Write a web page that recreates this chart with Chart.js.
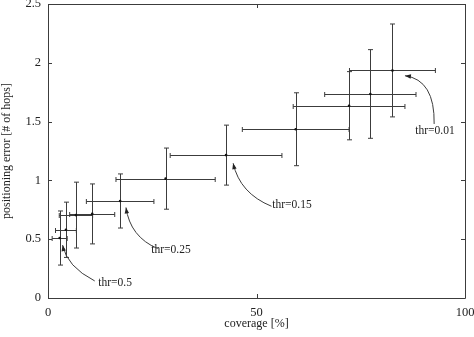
<!DOCTYPE html>
<html>
<head>
<meta charset="utf-8">
<script src="https://cdn.jsdelivr.net/npm/chart.js@4/dist/chart.umd.min.js"></script>
<style>
  html, body { margin: 0; padding: 0; background: #fff; }
  canvas { display: block; }
</style>
</head>
<body>
<canvas id="coverage" width="474" height="337"></canvas>
<script>
// mean coverage [%] and positioning error [hops], with spread on both axes
const coverage    = [2.8, 4.3, 6.7, 10.6, 17.3, 28.2, 42.7, 59.4, 72.2, 77.3, 82.6];
const coverageErr = [1.8, 2.5, 4.0, 5.4, 8.1, 11.9, 13.4, 12.8, 13.4, 10.95, 10.3];
const posError    = [0.51, 0.58, 0.705, 0.715, 0.825, 1.015, 1.215, 1.435, 1.635, 1.735, 1.935];
const posErrorErr = [0.23, 0.235, 0.28, 0.255, 0.23, 0.26, 0.255, 0.31, 0.29, 0.377, 0.395];

// threshold labels: text position, curve start, control point, arrow tip (data units)
const thrLabels = ['thr=0.5', 'thr=0.25', 'thr=0.15', 'thr=0.01'];
const thrText   = [[16.1, 0.128], [29.5, 0.41], [58.5, 0.79], [92.8, 1.424]];
const thrFrom   = [[11.2, 0.145], [26.3, 0.42], [53.6, 0.78], [92.6, 1.48]];
const thrCtrl   = [[4.5, 0.267], [19.7, 0.52], [46.0, 0.89], [92.8, 1.855]];
const thrTip    = [[3.5, 0.45], [18.7, 0.77], [44.4, 1.146], [85.6, 1.89]];

const xTicks = [0, 50, 100];
const yTicks = [0, 0.5, 1, 1.5, 2, 2.5];

const serif = 'Liberation Serif';
const ink = '#3c3c3c';

const errorBars = {
  id: 'errorBars',
  beforeDatasetsDraw(chart) {
    const { ctx, scales: { x, y } } = chart;
    const cap = 2.5;
    ctx.save();
    ctx.strokeStyle = ink;
    ctx.lineWidth = 1;
    ctx.beginPath();
    coverage.forEach((cx, i) => {
      const px = Math.round(x.getPixelForValue(cx)) + 0.5;
      const py = Math.round(y.getPixelForValue(posError[i])) + 0.5;
      const x0 = x.getPixelForValue(cx - coverageErr[i]);
      const x1 = x.getPixelForValue(cx + coverageErr[i]);
      const y0 = y.getPixelForValue(posError[i] - posErrorErr[i]);
      const y1 = y.getPixelForValue(posError[i] + posErrorErr[i]);
      // horizontal bar
      ctx.moveTo(x0, py); ctx.lineTo(x1, py);
      ctx.moveTo(x0, py - cap); ctx.lineTo(x0, py + cap);
      ctx.moveTo(x1, py - cap); ctx.lineTo(x1, py + cap);
      // vertical bar
      ctx.moveTo(px, y0); ctx.lineTo(px, y1);
      ctx.moveTo(px - cap, y0); ctx.lineTo(px + cap, y0);
      ctx.moveTo(px - cap, y1); ctx.lineTo(px + cap, y1);
    });
    ctx.stroke();
    ctx.restore();
  }
};

const frame = {
  id: 'frame',
  afterDraw(chart) {
    const { ctx, chartArea: a, scales: { x, y } } = chart;
    const len = 4;
    ctx.save();
    ctx.strokeStyle = ink;
    ctx.lineWidth = 1;
    ctx.beginPath();
    ctx.rect(Math.round(a.left) + 0.5, Math.round(a.top) + 0.5,
             Math.round(a.right - a.left), Math.round(a.bottom - a.top));
    xTicks.forEach(v => {
      const px = Math.round(x.getPixelForValue(v)) + 0.5;
      ctx.moveTo(px, a.bottom); ctx.lineTo(px, a.bottom - len);
      ctx.moveTo(px, a.top); ctx.lineTo(px, a.top + len);
    });
    yTicks.forEach(v => {
      const py = Math.round(y.getPixelForValue(v)) + 0.5;
      ctx.moveTo(a.left, py); ctx.lineTo(a.left + len, py);
      ctx.moveTo(a.right, py); ctx.lineTo(a.right - len, py);
    });
    ctx.stroke();

    // threshold annotations with curved arrows
    ctx.fillStyle = '#222';
    ctx.font = '11.5px "' + serif + '"';
    ctx.textAlign = 'center';
    ctx.textBaseline = 'middle';
    const P = p => [x.getPixelForValue(p[0]), y.getPixelForValue(p[1])];
    thrLabels.forEach((label, i) => {
      const t = P(thrText[i]), f = P(thrFrom[i]), c = P(thrCtrl[i]), tip = P(thrTip[i]);
      ctx.fillText(label, t[0], t[1]);
      ctx.beginPath();
      ctx.moveTo(f[0], f[1]);
      ctx.quadraticCurveTo(c[0], c[1], tip[0], tip[1]);
      ctx.stroke();
      const ang = Math.atan2(tip[1] - c[1], tip[0] - c[0]);
      const hl = 6, hw = 2.2;
      ctx.beginPath();
      ctx.moveTo(tip[0], tip[1]);
      ctx.lineTo(tip[0] - hl * Math.cos(ang) + hw * Math.sin(ang), tip[1] - hl * Math.sin(ang) - hw * Math.cos(ang));
      ctx.lineTo(tip[0] - hl * Math.cos(ang) - hw * Math.sin(ang), tip[1] - hl * Math.sin(ang) + hw * Math.cos(ang));
      ctx.closePath();
      ctx.fill();
    });
    ctx.restore();
  }
};

const ctx = document.getElementById('coverage').getContext('2d');
new Chart(ctx, {
  type: 'scatter',
  data: {
    datasets: [{
      label: 'positioning error',
      data: coverage.map((c, i) => ({ x: c, y: posError[i] })),
      pointRadius: 1.3,
      pointBackgroundColor: '#111',
      pointBorderWidth: 0,
      showLine: false
    }]
  },
  options: {
    responsive: false,
    animation: false,
    devicePixelRatio: 1,
    layout: { padding: { top: 4, right: 9, left: 0, bottom: 0 } },
    plugins: { legend: { display: false }, tooltip: { enabled: false } },
    scales: {
      x: {
        type: 'linear', min: 0, max: 100,
        grid: { display: false, drawTicks: false },
        border: { display: false },
        ticks: { stepSize: 50, padding: 7, color: '#222', font: { family: serif, size: 12.5 } },
        title: { display: true, text: 'coverage [%]', color: '#222',
                 font: { family: serif, size: 12 }, padding: { top: 0, bottom: 6 } },
        afterFit(scale) {
          scale.height = 39;
          scale.paddingLeft = 0;
          scale.paddingRight = 0;
        }
      },
      y: {
        type: 'linear', min: 0, max: 2.5,
        grid: { display: false, drawTicks: false },
        border: { display: false },
        ticks: { stepSize: 0.5, padding: 7, color: '#222', font: { family: serif, size: 12.5 },
                 callback: v => String(v) },
        title: { display: true, text: 'positioning error [# of hops]', color: '#222',
                 font: { family: serif, size: 12 }, padding: { top: 0, bottom: 0 } },
        afterFit(scale) {
          scale.width = 48;
          scale.paddingTop = 0;
          scale.paddingBottom = 0;
        }
      }
    }
  },
  plugins: [errorBars, frame]
});
</script>
</body>
</html>
